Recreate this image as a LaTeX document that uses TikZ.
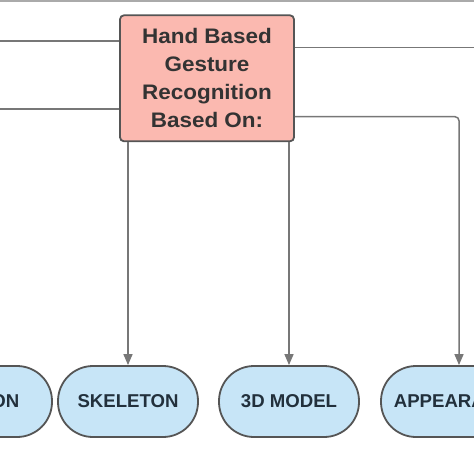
\documentclass[tikz,border=0pt]{standalone}
\usepackage{fontspec}
\setmainfont{Liberation Sans}
\newfontfamily\topfont[FakeStretch=1.07]{Liberation Sans}
\usetikzlibrary{arrows.meta}
\definecolor{boxpink}{HTML}{FBB9B0}
\definecolor{boxblue}{HTML}{C7E5F7}
\definecolor{edgec}{HTML}{555555}
\definecolor{wirec}{HTML}{777777}
\definecolor{txt}{HTML}{333333}
\definecolor{txtb}{HTML}{22303C}
\definecolor{barc}{HTML}{AAAAAA}
\begin{document}
\begin{tikzpicture}[x=1pt,y=-1pt,
 hub/.style={draw=edgec,line width=1.8pt,fill=boxpink,rounded corners=4pt,minimum width=174pt,minimum height=126pt,align=center,font=\topfont\bfseries\fontsize{21}{28}\selectfont,text=txt,inner sep=0pt},
 pill/.style={draw=edgec,line width=1.8pt,fill=boxblue,rounded corners=35pt,minimum width=140pt,minimum height=71pt,font=\bfseries\fontsize{18.6}{22}\selectfont,text=txtb,inner sep=0pt},
 wire/.style={draw=wirec,line width=1.5pt},
 arr/.style={wire,-{Triangle[length=11pt,width=9pt]}}]
\useasboundingbox (0,0) rectangle (474,474);
\clip (0,0) rectangle (474,474);
\fill[barc] (0,0) rectangle (474,2.3);
\node[hub] (hb) at (207,78.3) {Hand Based\\Gesture\\Recognition\\Based On:};
\node[pill] (mo) at (-18,401.5) {MOTION};
\node[pill] (sk) at (128,401.5) {SKELETON};
\node[pill] (md) at (289,401.5) {3D MODEL};
\node[pill,minimum width=156pt] (ap) at (459,401.5) {APPEARANCE};
\coordinate (l1) at (0,41);
\coordinate (l2) at (0,109);
\coordinate (r1) at (474,47.7);
\draw[wire] (l1) -- (l1 -| hb.west);
\draw[wire] (l2) -- (l2 -| hb.west);
\draw[wire] (r1) -- (r1 -| hb.east);
\draw[arr] (hb.south -| sk.north) -- (sk.north);
\draw[arr] (hb.south -| md.north) -- (md.north);
\draw[arr,rounded corners=4pt] ([yshift=-38.4pt]hb.east) -| (ap.north);
\end{tikzpicture}
\end{document}
